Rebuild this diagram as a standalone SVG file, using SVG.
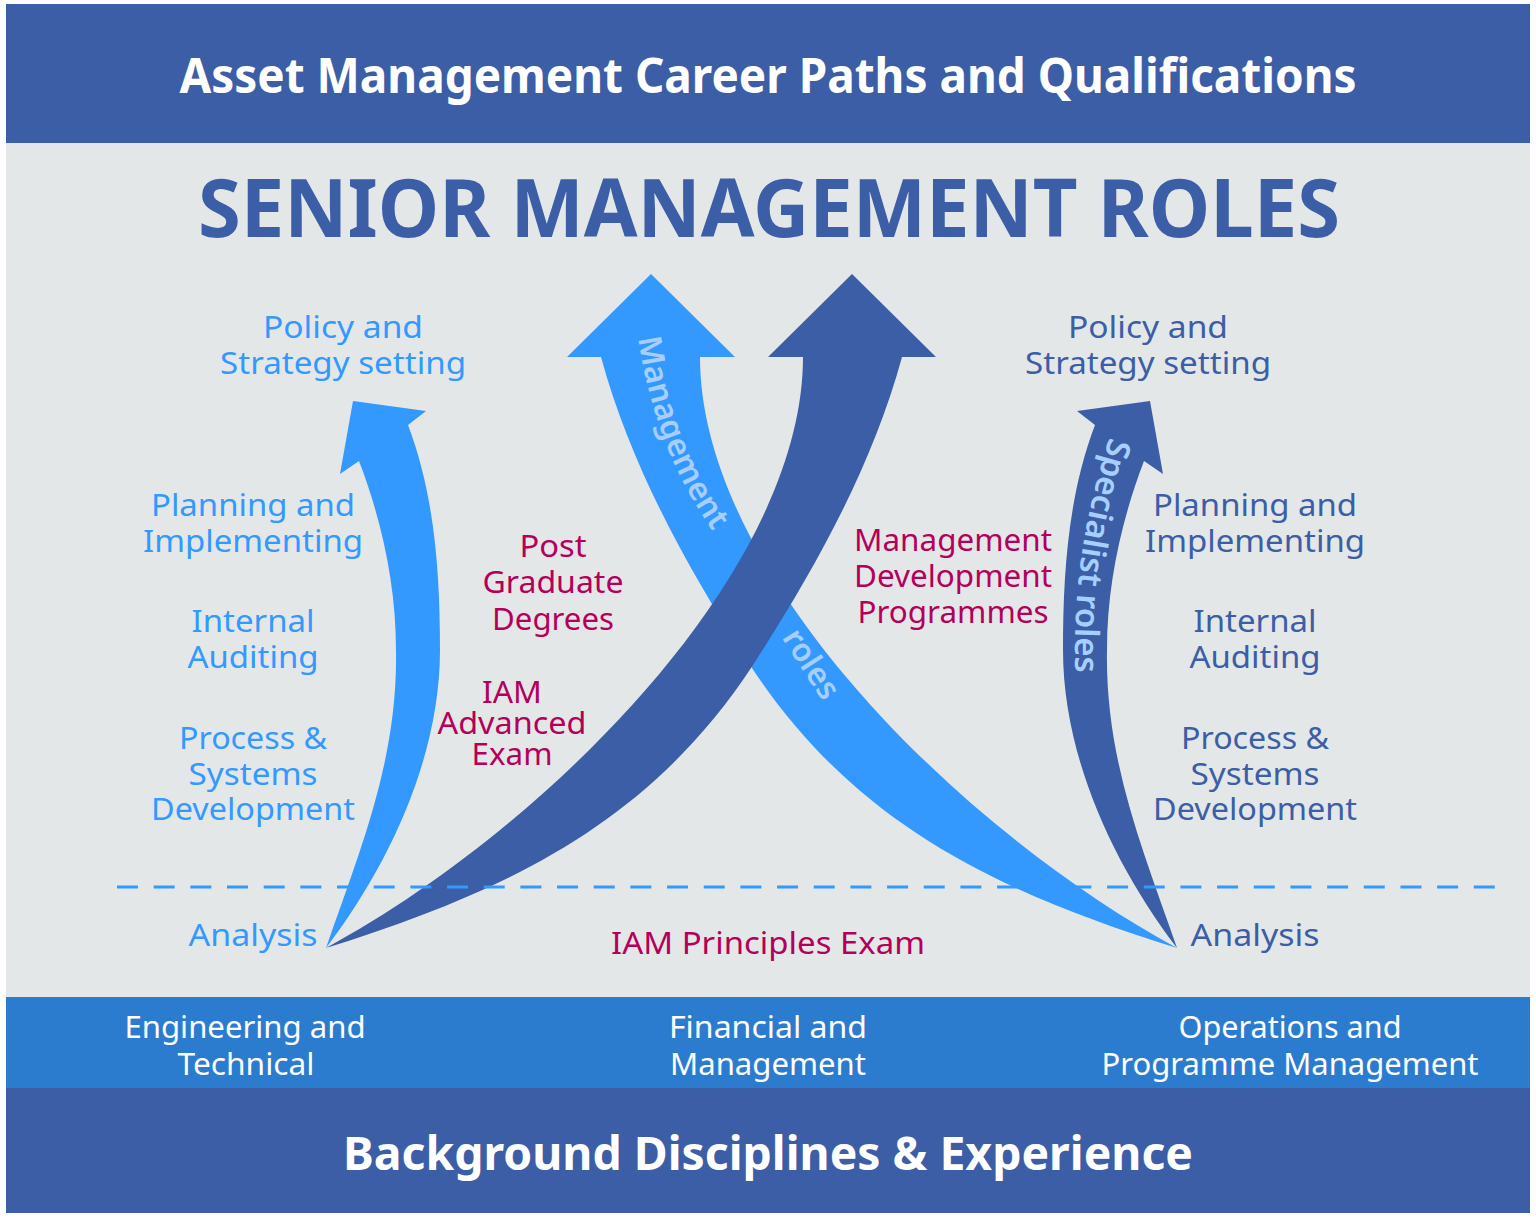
<svg xmlns="http://www.w3.org/2000/svg" xmlns:xlink="http://www.w3.org/1999/xlink" width="1536" height="1221" viewBox="0 0 1536 1221">
<style>
text{font-family:"Noto Sans","Open Sans","DejaVu Sans",sans-serif;font-size:30px;text-anchor:middle}
.hdr{fill:#ffffff;font-weight:700}
.t1{font-size:48px}
.t2{font-size:80px;font-weight:700;fill:#3b5ea6}
.t3{font-size:46px}
.lb{fill:#3399ff}
.db{fill:#3b5ea6}
.mg{fill:#b4005a}
.wt{fill:#ffffff}
.onarrow{fill:#a6cfff;text-anchor:start;font-size:32px;font-weight:600}
.spec{font-size:33px}
</style>
<defs>
<path id="mainArrowShape" d="M326,948 C537,834 803,577 803,357 L768,357 L852,274 L936,357 L902,357 C872,467 815,569 753,665 C649,824 507,891 326,948 Z"/>
<path id="sideArrowShape" d="M326,948 C360,850 398,760 396,650 C396,586 382,521 359,461 L340,474 L353,401 L426,411 L408,425 C435,496 440,574 440,650 C440,756 390,864 326,948 Z"/>
<path id="mgmtPath" d="M636,320 C645,400 670,470 712,530 S775,630 830,712"/>
<path id="specPath" d="M1115,420 C1092,490 1075,560 1075,650 S1080,720 1085,760"/>
</defs>

<rect x="0" y="0" width="1536" height="1221" fill="#ffffff"/>

<g id="header-band">
<rect x="6" y="4" width="1524" height="139" fill="#3b5ea6"/>
<text class="hdr t1" x="768" y="93" textLength="1177" lengthAdjust="spacingAndGlyphs">Asset Management Career Paths and Qualifications</text>
</g>

<g id="main-area">
<rect x="6" y="143" width="1524" height="854" fill="#e4e7e8"/>
<text class="t2" x="769" y="237" textLength="1142" lengthAdjust="spacingAndGlyphs">SENIOR MANAGEMENT ROLES</text>
</g>

<g id="connectors">
<g id="management-roles-arrow">
<use xlink:href="#mainArrowShape" href="#mainArrowShape" transform="matrix(-1 0 0 1 1503 0)" fill="#3399ff"/>
<text class="onarrow"><textPath xlink:href="#mgmtPath" href="#mgmtPath" startOffset="18">Management</textPath></text>
<text class="onarrow"><textPath xlink:href="#mgmtPath" href="#mgmtPath" startOffset="354">roles</textPath></text>
</g>
<g id="engineering-path-arrow">
<use xlink:href="#mainArrowShape" href="#mainArrowShape" fill="#3b5ea6"/>
</g>
<g id="left-specialist-arrow">
<use xlink:href="#sideArrowShape" href="#sideArrowShape" fill="#3399ff"/>
</g>
<g id="specialist-roles-arrow">
<use xlink:href="#sideArrowShape" href="#sideArrowShape" transform="matrix(-1 0 0 1 1503 0)" fill="#3b5ea6"/>
<text class="onarrow spec"><textPath xlink:href="#specPath" href="#specPath" startOffset="18">Specialist roles</textPath></text>
</g>
<line id="entry-level-divider" x1="117" y1="887" x2="1495" y2="887" stroke="#3399ff" stroke-width="3" stroke-dasharray="21 15.67"/>
</g>

<g id="left-roles">
<g id="left-policy"><text class="lb"><tspan x="343" y="338" textLength="160" lengthAdjust="spacingAndGlyphs">Policy and</tspan><tspan x="343" y="374" textLength="246" lengthAdjust="spacingAndGlyphs">Strategy setting</tspan></text></g>
<g id="left-planning"><text class="lb"><tspan x="253" y="516" textLength="204" lengthAdjust="spacingAndGlyphs">Planning and</tspan><tspan x="253" y="552" textLength="220" lengthAdjust="spacingAndGlyphs">Implementing</tspan></text></g>
<g id="left-auditing"><text class="lb"><tspan x="253" y="632" textLength="123" lengthAdjust="spacingAndGlyphs">Internal</tspan><tspan x="253" y="668" textLength="131" lengthAdjust="spacingAndGlyphs">Auditing</tspan></text></g>
<g id="left-process"><text class="lb"><tspan x="253" y="749" textLength="148" lengthAdjust="spacingAndGlyphs">Process &amp;</tspan><tspan x="253" y="785" textLength="129" lengthAdjust="spacingAndGlyphs">Systems</tspan><tspan x="253" y="820" textLength="204" lengthAdjust="spacingAndGlyphs">Development</tspan></text></g>
<g id="left-analysis"><text class="lb" x="253" y="946" textLength="129" lengthAdjust="spacingAndGlyphs">Analysis</text></g>
</g>

<g id="right-roles">
<g id="right-policy"><text class="db"><tspan x="1148" y="338" textLength="160" lengthAdjust="spacingAndGlyphs">Policy and</tspan><tspan x="1148" y="374" textLength="246" lengthAdjust="spacingAndGlyphs">Strategy setting</tspan></text></g>
<g id="right-planning"><text class="db"><tspan x="1255" y="516" textLength="204" lengthAdjust="spacingAndGlyphs">Planning and</tspan><tspan x="1255" y="552" textLength="220" lengthAdjust="spacingAndGlyphs">Implementing</tspan></text></g>
<g id="right-auditing"><text class="db"><tspan x="1255" y="632" textLength="123" lengthAdjust="spacingAndGlyphs">Internal</tspan><tspan x="1255" y="668" textLength="131" lengthAdjust="spacingAndGlyphs">Auditing</tspan></text></g>
<g id="right-process"><text class="db"><tspan x="1255" y="749" textLength="148" lengthAdjust="spacingAndGlyphs">Process &amp;</tspan><tspan x="1255" y="785" textLength="129" lengthAdjust="spacingAndGlyphs">Systems</tspan><tspan x="1255" y="820" textLength="204" lengthAdjust="spacingAndGlyphs">Development</tspan></text></g>
<g id="right-analysis"><text class="db" x="1255" y="946" textLength="129" lengthAdjust="spacingAndGlyphs">Analysis</text></g>
</g>

<g id="qualifications">
<g id="post-graduate"><text class="mg"><tspan x="553" y="557" textLength="67" lengthAdjust="spacingAndGlyphs">Post</tspan><tspan x="553" y="593" textLength="141" lengthAdjust="spacingAndGlyphs">Graduate</tspan><tspan x="553" y="630" textLength="122" lengthAdjust="spacingAndGlyphs">Degrees</tspan></text></g>
<g id="iam-advanced"><text class="mg"><tspan x="512" y="703" textLength="60" lengthAdjust="spacingAndGlyphs">IAM</tspan><tspan x="512" y="734" textLength="149" lengthAdjust="spacingAndGlyphs">Advanced</tspan><tspan x="512" y="765" textLength="81" lengthAdjust="spacingAndGlyphs">Exam</tspan></text></g>
<g id="mgmt-development"><text class="mg"><tspan x="953" y="551" textLength="198" lengthAdjust="spacingAndGlyphs">Management</tspan><tspan x="953" y="587" textLength="198" lengthAdjust="spacingAndGlyphs">Development</tspan><tspan x="953" y="623" textLength="191" lengthAdjust="spacingAndGlyphs">Programmes</tspan></text></g>
<g id="iam-principles"><text class="mg" x="768" y="954" textLength="314" lengthAdjust="spacingAndGlyphs">IAM Principles Exam</text></g>
</g>

<g id="disciplines-band">
<rect x="6" y="997" width="1524" height="91" fill="#2b7ccf"/>
<g id="engineering"><text class="wt"><tspan x="245" y="1038" textLength="241" lengthAdjust="spacingAndGlyphs">Engineering and</tspan><tspan x="246" y="1075" textLength="137" lengthAdjust="spacingAndGlyphs">Technical</tspan></text></g>
<g id="financial"><text class="wt"><tspan x="768" y="1038" textLength="198" lengthAdjust="spacingAndGlyphs">Financial and</tspan><tspan x="768" y="1075" textLength="196" lengthAdjust="spacingAndGlyphs">Management</tspan></text></g>
<g id="operations"><text class="wt"><tspan x="1290" y="1038" textLength="223" lengthAdjust="spacingAndGlyphs">Operations and</tspan><tspan x="1290" y="1075" textLength="377" lengthAdjust="spacingAndGlyphs">Programme Management</tspan></text></g>
</g>

<g id="footer-band">
<rect x="6" y="1088" width="1524" height="125" fill="#3b5ea6"/>
<text class="hdr t3" x="768" y="1170" textLength="850" lengthAdjust="spacingAndGlyphs">Background Disciplines &amp; Experience</text>
</g>
</svg>
